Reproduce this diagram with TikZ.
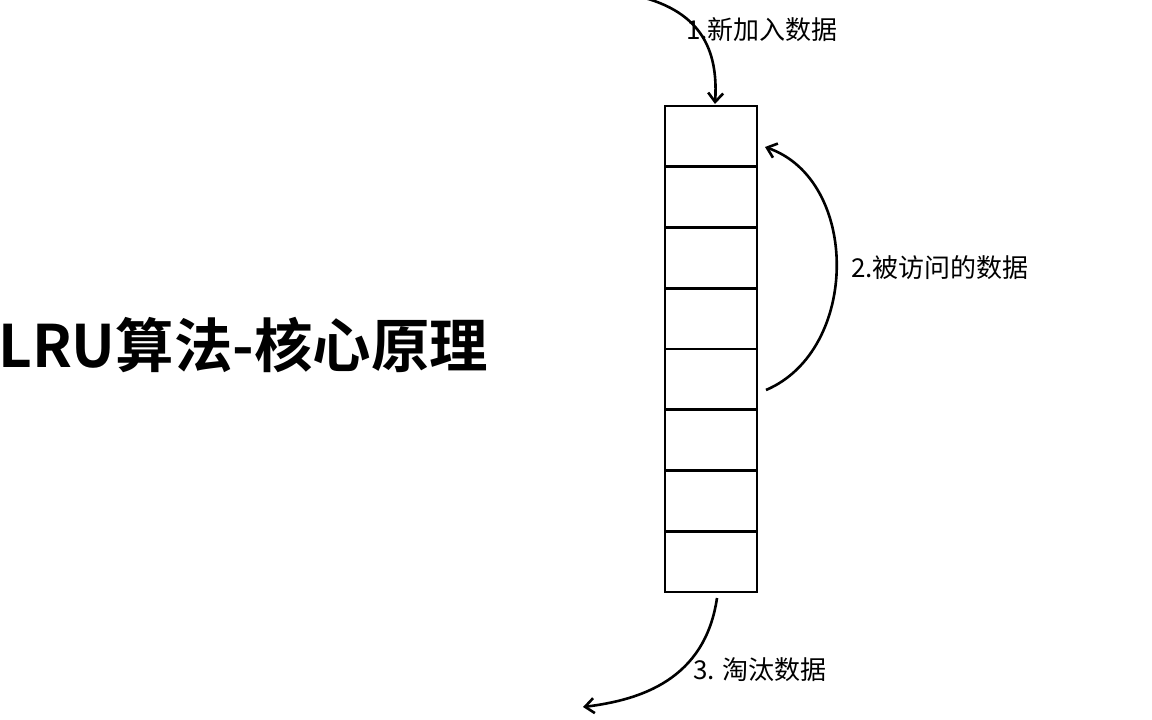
\documentclass[tikz,border=0pt]{standalone}
\usepackage{fontspec}
\newfontfamily\cjk{Noto Sans CJK SC}
\newfontfamily\cjkb{Noto Sans CJK SC Bold}
\usetikzlibrary{arrows.meta}
\begin{document}
\begin{tikzpicture}[x=1pt,y=-1pt,
  cell/.style={draw,line width=2.8pt,minimum width=92pt,minimum height=60.75pt,inner sep=0pt},
  arr/.style={line width=2.6pt,-{Straight Barb[length=9pt,width=15pt,line width=2.6pt]}},
  lbl/.style={font=\cjk\fontsize{26}{29}\selectfont,anchor=west,inner sep=0pt}]
\useasboundingbox (0,0) rectangle (1152,720);
\foreach \i in {1,...,8}{
  \node[cell] (c\i) at (711,{106+60.75*(\i-0.5)}) {};
}
\coordinate (s1) at (645,-2);
\coordinate (t1) at (715,104);
\draw[arr] (s1) .. controls (705,15) and (718,55) .. (t1);
\node[lbl] (l1) at (686,30) {1.新加入数据};
\coordinate (s2) at (766,390);
\coordinate (t2) at (765,147);
\draw[arr] (s2) .. controls (860,350) and (860,180) .. (t2);
\node[lbl] (l2) at (851,268) {2.被访问的数据};
\coordinate (s3) at (717,598);
\coordinate (t3) at (583,707);
\draw[arr] (s3) .. controls (705,680) and (640,700) .. (t3);
\node[lbl] (l3) at (693,670) {3. 淘汰数据};
\node[font=\cjkb\fontsize{58.5}{63}\selectfont,anchor=west,inner sep=0pt] (title) at (-2,345) {LRU算法-核心原理};
\end{tikzpicture}
\end{document}
